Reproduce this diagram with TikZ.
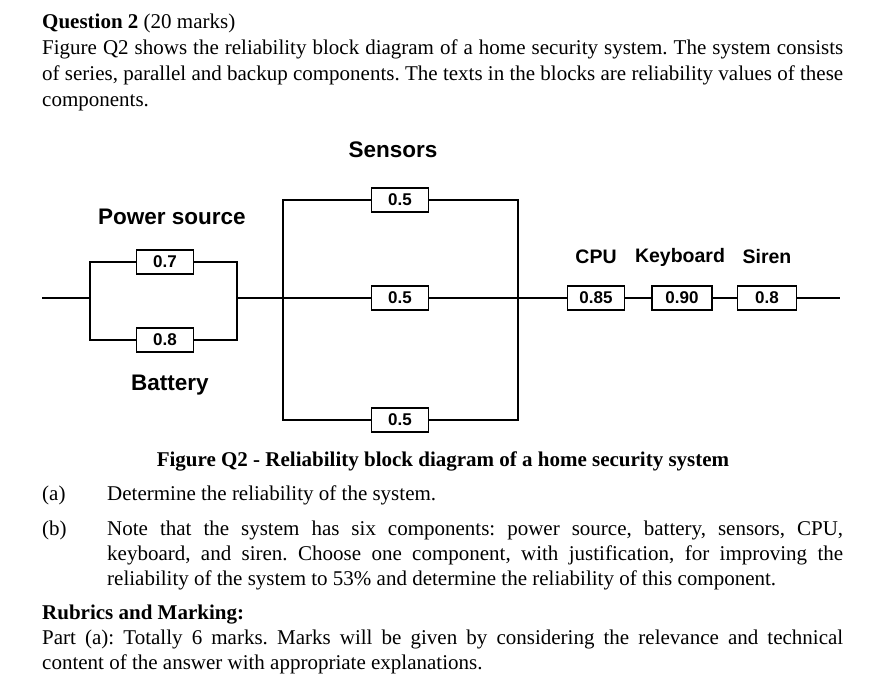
\documentclass[tikz,border=0pt]{standalone}
\usepackage{fontspec}
\setmainfont{Liberation Serif}
\newfontfamily\arial{Liberation Sans}
\usetikzlibrary{positioning}
\frenchspacing
\newcommand{\qline}[1]{\makebox[801pt][s]{#1}}
\newcommand{\subline}[1]{\makebox[736pt][s]{#1}}
\begin{document}
\begin{tikzpicture}[x=1pt,y=-1pt]
 	\tikzstyle{txt}=[anchor=base west, inner sep=0pt, font=\fontsize{21}{25}\selectfont]
 	\tikzstyle{block}=[rectangle, draw=black, line width=1.2pt, minimum width=57pt, minimum height=24pt, inner sep=0pt, font=\arial\bfseries\fontsize{17}{18}\selectfont]
 	\tikzstyle{lbl}=[inner sep=0pt, font=\arial\bfseries\fontsize{22.5}{24}\selectfont]
 	\tikzstyle{slbl}=[inner sep=0pt, font=\arial\bfseries\fontsize{19.5}{22}\selectfont]
 	\tikzstyle{wire}=[line width=1.2pt]
 	\useasboundingbox (0,0) rectangle (882,692);
 	% question text
 	\node[txt] (q) at (42,29) {\textbf{Question 2} (20 marks)};
 	\node[txt] (p1) at (42,55) {\qline{Figure Q2 shows the reliability block diagram of a home security system. The system consists}};
 	\node[txt] (p2) at (42,81) {\qline{of series, parallel and backup components. The texts in the blocks are reliability values of these}};
 	\node[txt] (p3) at (42,107) {components.};
 	% diagram
 	\node[lbl] (sens) at (393,150) {Sensors};
 	\node[lbl] (pow) at (172,217) {Power source};
 	\node[lbl] (bat) at (170,385) {Battery};
 	\node[slbl] (cpul) at (596,257) {CPU};
 	\node[slbl] (keyl) at (680,257) {Keyboard};
 	\node[slbl] (sirl) at (767,257) {Siren};
 	\node[block] (ps) at (165,262) {0.7};
 	\node[block] (bt) at (165,340) {0.8};
 	\node[block] (s1) at (400,200) {0.5};
 	\node[block] (s2) at (400,298) {0.5};
 	\node[block] (s3) at (400,420) {0.5};
 	\node[block] (cpu) at (596,298) {0.85};
 	\node[block, minimum width=60pt] (key) at (682,298) {0.90};
 	\node[block, minimum width=59pt] (sir) at (767,298) {0.8};
 	\coordinate (in) at (42,298);
 	\coordinate (out) at (840,298);
 	\coordinate (pl) at (90,298);
 	\coordinate (pr) at (237,298);
 	\coordinate (sl) at (283,298);
 	\coordinate (sr) at (518,298);
 	\draw[wire] (in) -- (pl) (pl) |- (ps) (pl) |- (bt);
 	\draw[wire] (ps) -| (pr) (bt) -| (pr) (pr) -- (sl);
 	\draw[wire] (sl) |- (s1) (sl) |- (s3) (sl) -- (s2);
 	\draw[wire] (s1) -| (sr) (s3) -| (sr) (s2) -- (sr);
 	\draw[wire] (sr) -- (cpu) (cpu) -- (key) (key) -- (sir) (sir) -- (out);
 	% caption and parts
 	\node[txt, anchor=base, font=\bfseries\fontsize{21}{25}\selectfont] (cap) at (443,466) {Figure Q2 - Reliability block diagram of a home security system};
 	\node[txt] (a) at (42,500) {(a)};
 	\node[txt] (at) at (107,500) {Determine the reliability of the system.};
 	\node[txt] (b) at (42,535) {(b)};
 	\node[txt] (b1) at (107,535) {\subline{Note that the system has six components: power source, battery, sensors, CPU,}};
 	\node[txt] (b2) at (107,560) {\subline{keyboard, and siren. Choose one component, with justification, for improving the}};
 	\node[txt] (b3) at (107,585) {reliability of the system to 53\% and determine the reliability of this component.};
 	\node[txt] (r) at (42,619) {\textbf{Rubrics and Marking:}};
 	\node[txt] (r1) at (42,644) {\qline{Part (a): Totally 6 marks. Marks will be given by considering the relevance and technical}};
 	\node[txt] (r2) at (42,669) {content of the answer with appropriate explanations.};
\end{tikzpicture}
\end{document}
